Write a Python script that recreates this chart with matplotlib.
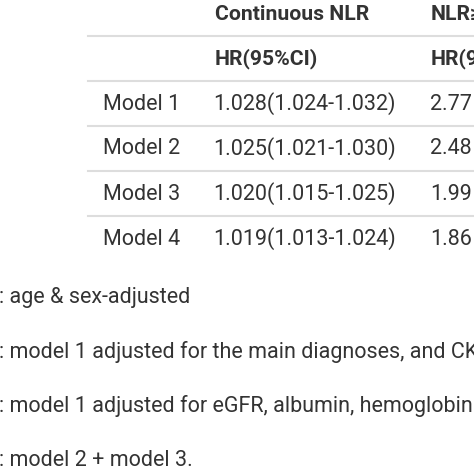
import matplotlib.pyplot as plt

plt.rcParams['font.family'] = ['Roboto', 'DejaVu Sans']

header = ['Continuous NLR', 'NLR≥']
subheader = ['HR(95%CI)', 'HR(95%CI)']
models = ['Model 1', 'Model 2', 'Model 3', 'Model 4']
continuous_hr = ['1.028(1.024-1.032)', '1.025(1.021-1.030)',
                 '1.020(1.015-1.025)', '1.019(1.013-1.024)']
nlr_hr = ['2.77', '2.48', '1.99', '1.86']
notes = [': age & sex-adjusted',
         ': model 1 adjusted for the main diagnoses, and CKD',
         ': model 1 adjusted for eGFR, albumin, hemoglobin',
         ': model 2 + model 3.']

W = H = 474
fig = plt.figure(figsize=(4.74, 4.74), dpi=100)
fig.patch.set_facecolor('white')
ax = fig.add_axes([0, 0, 1, 1])
ax.set_xlim(0, W)
ax.set_ylim(H, 0)
ax.axis('off')

txt = '#333333'
line_c = '#dddddd'
fs = 15.5
fsb = 15.2

# header rows
ax.text(215, 14, header[0], fontsize=fsb, fontweight='bold', color=txt, va='center')
ax.text(431, 14, header[1], fontsize=fsb, fontweight='bold', color=txt, va='center')
ax.text(215, 59, subheader[0], fontsize=fsb, fontweight='bold', color=txt, va='center')
ax.text(431, 59, subheader[1], fontsize=fsb, fontweight='bold', color=txt, va='center')

for y in [36, 81, 126, 171, 216]:
    ax.plot([88, W], [y, y], color=line_c, lw=1.5)

for i, m in enumerate(models):
    y = 104 + 45 * i
    ax.text(103, y, m, fontsize=fs, color=txt, va='center')
    ax.text(213, y, continuous_hr[i], fontsize=fs, color=txt, va='center')
    ax.text(430, y, nlr_hr[i], fontsize=fs, color=txt, va='center')

for i, n in enumerate(notes):
    ax.text(-1, 298 + 54 * i, n, fontsize=fs, color=txt, va='center')

fig.savefig('out.png', dpi=100, facecolor='white')
